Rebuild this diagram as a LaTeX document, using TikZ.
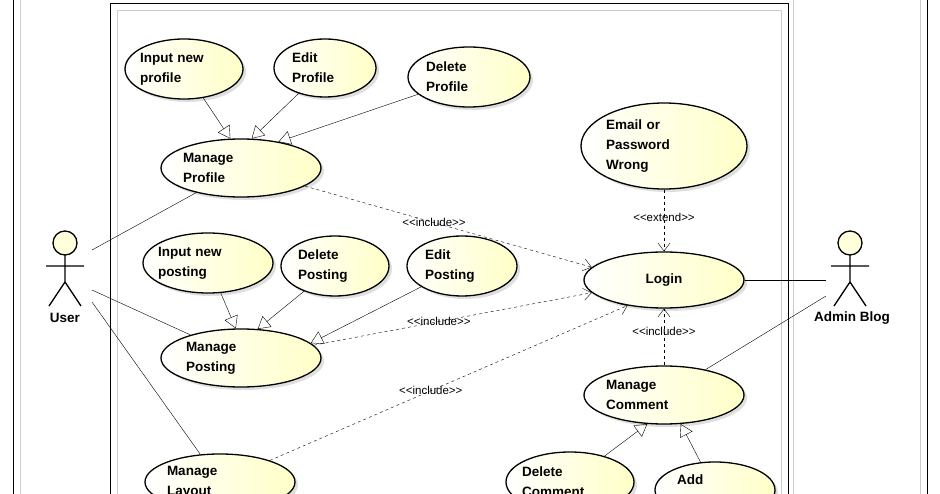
\documentclass[tikz,border=0pt]{standalone}
\usepackage{fontspec}
\setmainfont{Liberation Sans}
\usetikzlibrary{shapes.geometric,arrows.meta,shadows}
\tikzset{
  uc/.style={ellipse, draw, line width=1.3pt, inner xsep=-20pt, inner ysep=-8pt, align=left,
    font=\bfseries\fontsize{13.5}{20}\selectfont,
    left color=white, right color={rgb,255:red,255;green,255;blue,200},
    drop shadow={shadow xshift=3pt, shadow yshift=-3pt, fill=black!25}},
  gen/.style={-{Triangle[open,length=12pt,width=14pt]}, thin},
  incl/.style={dashed, thin, -{Straight Barb[length=8pt,width=12pt]}},
  stereo/.style={font=\fontsize{11.5}{13}\selectfont, inner sep=1pt},
  actor/.style={line width=1.3pt},
  aname/.style={font=\bfseries\fontsize{13.5}{16}\selectfont}
}
\begin{document}
\begin{tikzpicture}[x=1pt,y=-1pt]
\useasboundingbox (0,0) rectangle (940,494);
% frames
\draw (13,-5) -- (13,500);
\draw[black!20] (20,-5) -- (20,500);
\draw (927,-5) -- (927,500);
\draw[black!20] (920,-5) -- (920,500);
\draw (110,500) -- (110,3) -- (788,3) -- (788,500);
\draw[black!20] (117,500) -- (117,10) -- (781,10) -- (781,500);
\draw[black!20] (793,-5) -- (793,500);
% use cases
\node[uc, minimum width=118, minimum height=60, text width=88] (inprof) at (184,69) {Input new\\profile};
\node[uc, minimum width=102, minimum height=58, text width=66] (editprof) at (325,68) {Edit\\Profile};
\node[uc, minimum width=122, minimum height=60, text width=86] (delprof) at (469,77) {Delete\\Profile};
\node[uc, minimum width=160, minimum height=58, text width=116] (manprof) at (241,168) {Manage\\Profile};
\node[uc, minimum width=166, minimum height=86, text width=116] (wrong) at (664,146) {Email or\\Password\\Wrong};
\node[uc, minimum width=160, minimum height=56, text width=46, align=center] (login) at (664,280) {Login};
\node[uc, minimum width=130, minimum height=60, text width=100] (inpost) at (208,263) {Input new\\posting};
\node[uc, minimum width=108, minimum height=60, text width=74] (delpost) at (335,266) {Delete\\Posting};
\node[uc, minimum width=110, minimum height=60, text width=74] (editpost) at (462,266) {Edit\\Posting};
\node[uc, minimum width=160, minimum height=58, text width=110] (manpost) at (241,358) {Manage\\Posting};
\node[uc, minimum width=160, minimum height=58, text width=116] (mancom) at (664,395) {Manage\\Comment};
\node[uc, minimum width=128, minimum height=60, text width=96] (delcom) at (570,482) {Delete\\Comment};
\node[uc, minimum width=120, minimum height=56, text width=76] (addcom) at (715,490) {Add\\Comment};
\node[uc, minimum width=150, minimum height=56, text width=106] (manlay) at (220,482) {Manage\\Layout};
% actors
\draw[actor, fill={rgb,255:red,255;green,255;blue,220}] (65,243) circle (12);
\draw[actor] (65,255) -- (65,282) (46,266) -- (84,266) (65,282) -- (49,306) (65,282) -- (81,306);
\node[aname] (user) at (65,318) {User};
\draw[actor, fill={rgb,255:red,255;green,255;blue,220}] (850,243) circle (12);
\draw[actor] (850,255) -- (850,282) (831,266) -- (869,266) (850,282) -- (834,306) (850,282) -- (866,306);
\node[aname] (admin) at (852,318) {Admin Blog};
\coordinate (userA) at (92,250);
\coordinate (userB) at (92,290);
\coordinate (userC) at (92,302);
\coordinate (adminA) at (826,280);
\coordinate (adminB) at (826,296);
% associations
\draw (userA) -- (manprof);
\draw (userB) -- (manpost);
\draw (userC) -- (manlay);
\draw (adminA) -- (login);
\draw (adminB) -- (mancom);
% generalizations
\draw[gen] (inprof) -- (manprof.110);
\draw[gen] (editprof) -- (manprof.70);
\draw[gen] (delprof) -- (manprof.35);
\draw[gen] (inpost) -- (manpost.100);
\draw[gen] (delpost) -- (manpost.60);
\draw[gen] (editpost) -- (manpost.12);
\draw[gen] (delcom) -- (mancom.240);
\draw[gen] (addcom) -- (mancom.300);
% include / extend
\draw[incl] (manprof) -- node[stereo, pos=0.45] {{<}{<}include{>}{>}} (login.170);
\draw[incl] (wrong) -- node[stereo, pos=0.45] {{<}{<}extend{>}{>}} (login);
\draw[incl] (manpost.10) -- node[stereo, pos=0.45] {{<}{<}include{>}{>}} (login.190);
\draw[incl] (manlay) -- node[stereo, pos=0.45] {{<}{<}include{>}{>}} (login.215);
\draw[incl] (mancom) -- node[stereo, pos=0.6] {{<}{<}include{>}{>}} (login);
\end{tikzpicture}
\end{document}
